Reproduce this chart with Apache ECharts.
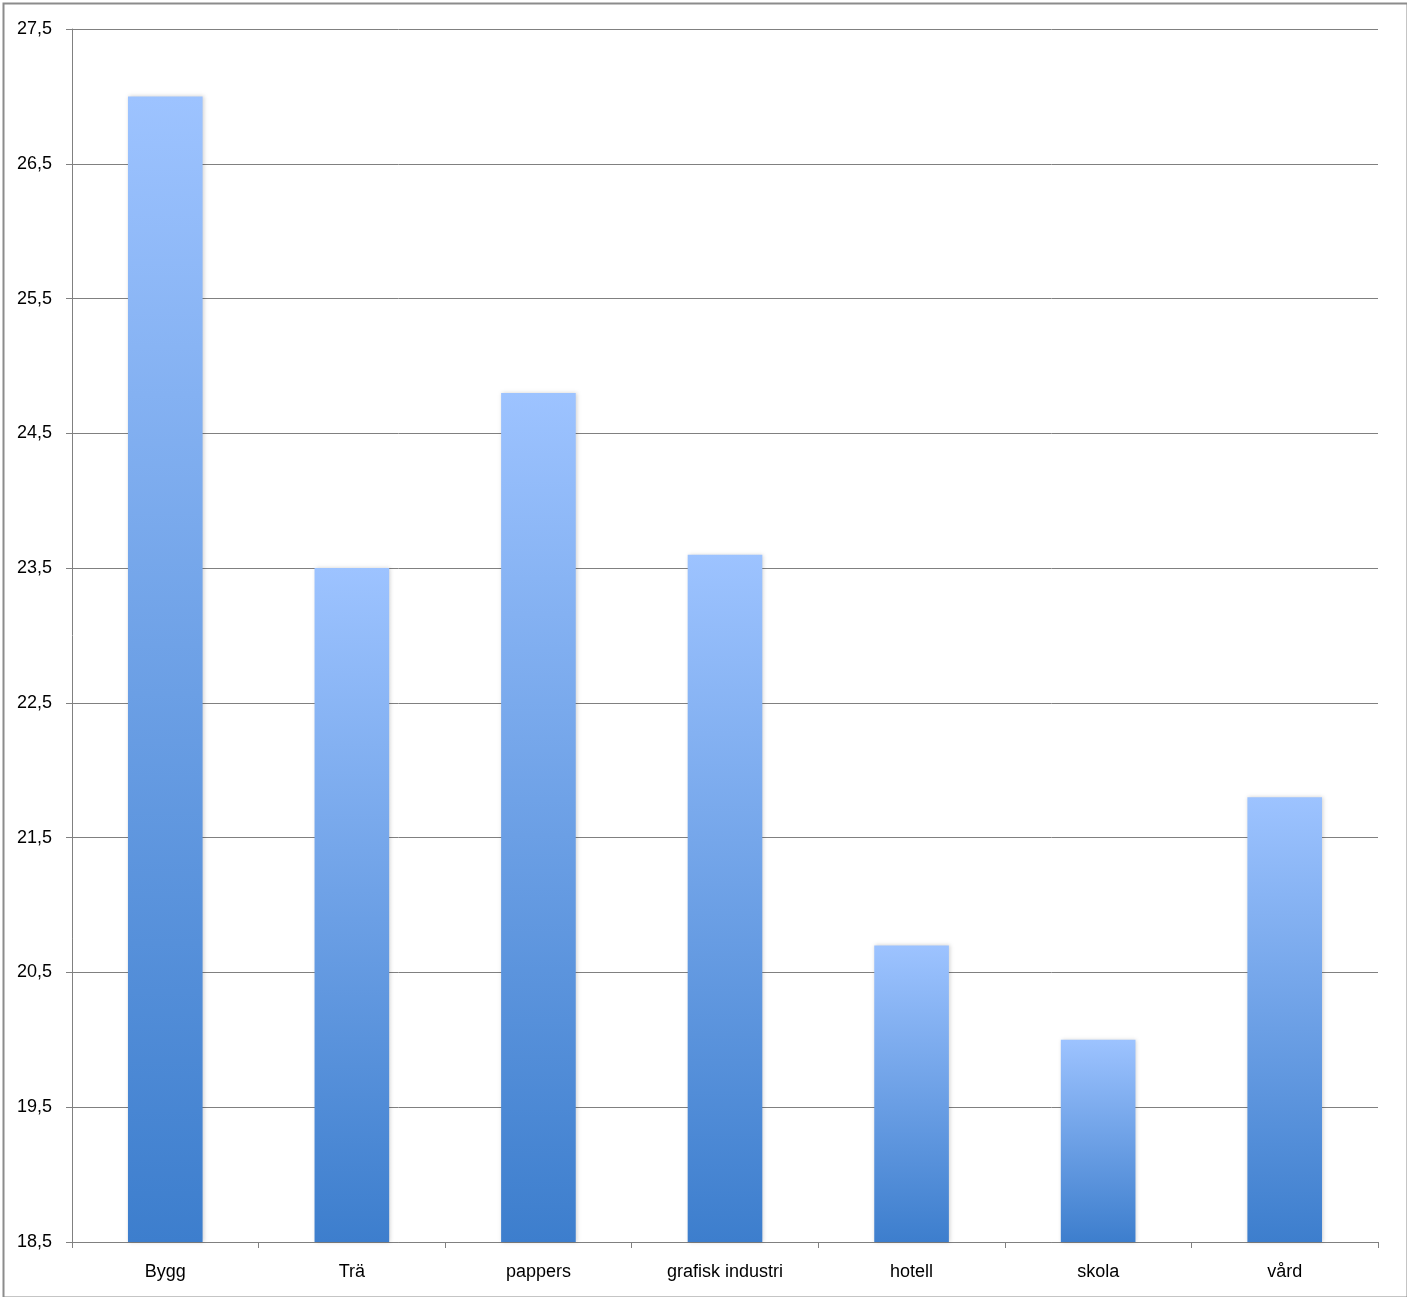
<!DOCTYPE html>
<html>
<head>
<meta charset="utf-8">
<script src="https://cdn.jsdelivr.net/npm/echarts@6/dist/echarts.min.js"></script>
<style>
html,body{margin:0;padding:0;background:#fff;}
#c{position:absolute;left:0;top:0;width:1407px;height:1297px;}
</style>
</head>
<body>
<div id="c"></div>
<script>
const categories = ['Bygg', 'Trä', 'pappers', 'grafisk industri', 'hotell', 'skola', 'vård'];
const values = [27.0, 23.5, 24.8, 23.6, 20.7, 20.0, 21.8];
const yMin = 18.5, yMax = 27.5, yStep = 1;

const chart = echarts.init(document.getElementById('c'), null, {renderer: 'canvas'});
const fontFam = '"Liberation Sans", "Open Sans", sans-serif';
chart.setOption({
  animation: false,
  backgroundColor: '#fff',
  graphic: [{
    type: 'rect', left: 1, top: 1, silent: true,
    shape: {width: 1404, height: 1294},
    style: {fill: 'none', stroke: '#8c8c8c', lineWidth: 2}
  }],
  grid: {left: 72, right: 29, top: 29, bottom: 55, containLabel: false},
  xAxis: {
    type: 'category',
    data: categories,
    axisLine: {show: true, lineStyle: {color: '#808080', width: 1}},
    axisTick: {show: true, length: 6, lineStyle: {color: '#808080'}, alignWithLabel: false},
    axisLabel: {color: '#000', fontSize: 18, fontFamily: fontFam, margin: 21, interval: 0}
  },
  yAxis: {
    type: 'value',
    min: yMin, max: yMax, interval: yStep,
    axisLine: {show: true, lineStyle: {color: '#808080', width: 1}},
    axisTick: {show: true, length: 6, lineStyle: {color: '#808080'}},
    splitLine: {show: true, lineStyle: {color: '#808080', width: 1}},
    axisLabel: {
      color: '#000', fontSize: 18, fontFamily: fontFam, margin: 20,
      padding: [3, 0, 0, 0],
      formatter: v => v.toFixed(1).replace('.', ',')
    }
  },
  series: [{
    type: 'bar',
    data: values,
    barWidth: '40%',
    itemStyle: {
      color: new echarts.graphic.LinearGradient(0, 0, 0, 1, [
        {offset: 0, color: '#9dc3ff'},
        {offset: 1, color: '#3d7ecd'}
      ]),
      shadowBlur: 4,
      shadowColor: 'rgba(0,0,0,0.18)',
      shadowOffsetX: 1,
      shadowOffsetY: 0
    }
  }]
});
</script>
</body>
</html>
